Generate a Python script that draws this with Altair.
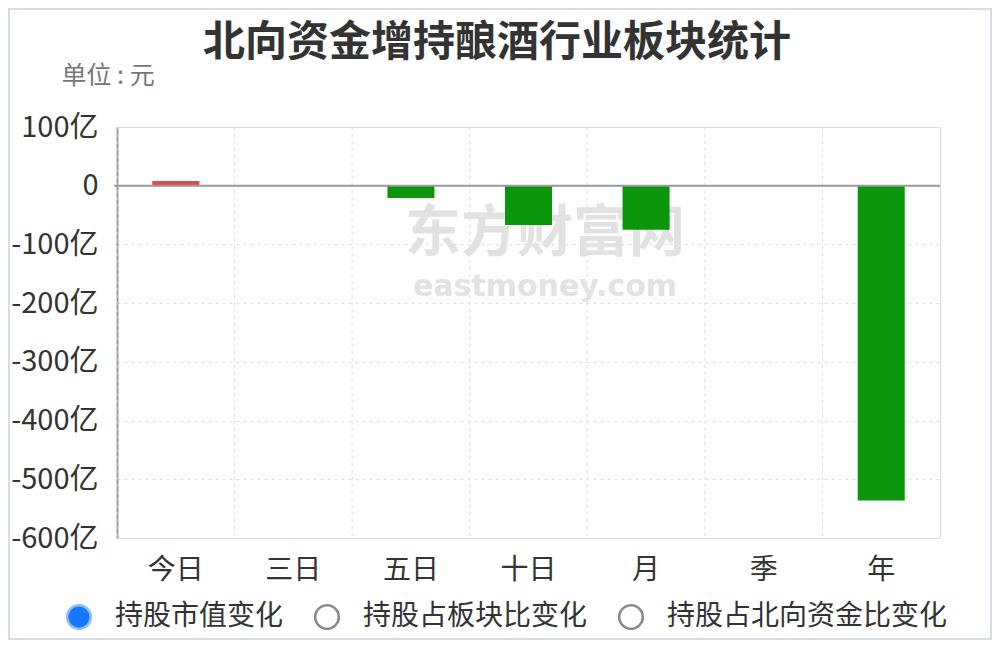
import altair as alt
import pandas as pd

# ---- data ----
categories = ["今日", "三日", "五日", "十日", "月", "季", "年"]
values = [8, 0, -21, -67, -75, 0, -536]          # 亿元
y_ticks = [100, 0, -100, -200, -300, -400, -500, -600]
options = ["持股市值变化", "持股占板块比变化", "持股占北向资金比变化"]
title_text = "北向资金增持酿酒行业板块统计"
unit_text = "单位 : 元"
watermark_cn = ["东方财富网"]
watermark_en = ["eastmoney.com"]

FONT = "Noto Sans CJK SC"
GRID = "#d5dfe8"
AXIS = "#9a9a9a"

df = pd.DataFrame({"cat": categories, "v": values})
cat_df = pd.DataFrame({"cat": categories})
opt_df = pd.DataFrame({"opt": options})

x_scale = alt.Scale(domain=categories, paddingInner=0, paddingOuter=0)
y_scale = alt.Scale(domain=[-600, 100], nice=False, zero=False)

x_axis = alt.Axis(title=None, domain=False, ticks=False, grid=False, labelAngle=0,
                  bandPosition=0.5, labelAlign="center",
                  labelFontSize=28, labelColor="#333", labelFont=FONT, labelPadding=18)

frame = alt.Chart(pd.DataFrame({"a": [0]})).mark_rect(
    fill="transparent", stroke="#d3dee8", strokeWidth=2
).encode(x=alt.value(-108), x2=alt.value(874), y=alt.value(-118), y2=alt.value(512))

wm_cn = alt.Chart(pd.DataFrame({"t": watermark_cn})).mark_text(
    font=FONT, fontSize=56, fontWeight="bold", color="#e2e2e2", align="center", baseline="middle"
).encode(text="t:N", x=alt.value(428), y=alt.value(107))

wm_en = alt.Chart(pd.DataFrame({"t": watermark_en})).mark_text(
    font="DejaVu Sans", fontSize=30, fontWeight="bold", color="#e2e2e2", align="center", baseline="middle"
).encode(text="t:N", x=alt.value(428), y=alt.value(160))

vgrid = alt.Chart(cat_df).mark_rule(color=GRID, strokeDash=[3, 4], strokeWidth=1).encode(
    x=alt.X("cat:N", sort=categories, scale=x_scale, bandPosition=0, axis=x_axis)
)

bars = alt.Chart(df).mark_bar(size=47).encode(
    x=alt.X("cat:N", sort=categories, scale=x_scale, axis=x_axis),
    y=alt.Y(
        "v:Q", scale=y_scale,
        axis=alt.Axis(
            values=y_ticks, labelExpr="datum.value == 0 ? '0' : datum.value + '亿'",
            ticks=False, domain=True, domainColor=AXIS, domainWidth=2,
            grid=True, gridColor=GRID, gridDash=[3, 4], gridWidth=1,
            labelFontSize=29, labelColor="#333", labelFont=FONT, labelPadding=19,
            title=unit_text, titleAngle=0, titleAlign="left", titleBaseline="middle",
            titleX=-56, titleY=-52, titleFontSize=25, titleFontWeight="normal",
            titleColor="#777", titleFont=FONT,
        ),
    ),
    color=alt.condition(alt.datum.v > 0, alt.value("#e5474f"), alt.value("#0a960a")),
)

zero = alt.Chart(pd.DataFrame({"z": [0]})).mark_rule(color=AXIS, strokeWidth=2).encode(
    y=alt.Y("z:Q", scale=y_scale), x=alt.value(-3), x2=alt.value(823)
)

legend_cfg = dict(
    title=None, orient="none", legendX=-52, legendY=476, direction="horizontal",
    symbolSize=560, symbolStrokeWidth=2.5, labelFontSize=28, labelFont=FONT,
    labelColor="#333", labelOffset=22, columnPadding=26, padding=0,
    symbolType="circle", labelLimit=600, symbolOpacity=1,
)

legend_pts = alt.Chart(opt_df).mark_point(filled=True, shape="circle", opacity=1).encode(
    x=alt.value(-2000), y=alt.value(-2000),
    fill=alt.Fill(
        "opt:N", sort=options,
        scale=alt.Scale(domain=options, range=["#1677ff", "#ffffff", "#ffffff"]),
        legend=alt.Legend(**legend_cfg),
    ),
    stroke=alt.Stroke(
        "opt:N", sort=options,
        scale=alt.Scale(domain=options, range=["#8fc0fb", "#8a8a8a", "#8a8a8a"]),
        legend=alt.Legend(**legend_cfg),
    ),
)

title_mark = alt.Chart(pd.DataFrame({"t": [title_text]})).mark_text(
    font=FONT, fontSize=42, fontWeight="bold", color="#333", align="center", baseline="middle"
).encode(text="t:N", x=alt.value(380), y=alt.value(-84))

chart = alt.layer(frame, wm_cn, wm_en, vgrid, bars, zero, legend_pts, title_mark).resolve_scale(
    fill="independent", stroke="independent"
).properties(
    width=823, height=411,
    autosize=alt.AutoSizeParams(type="none"),
    padding={"left": 109, "top": 119, "right": 52, "bottom": 102},
).configure_view(
    stroke=GRID, strokeDash=[3, 4], strokeWidth=1
).configure(background="white")

chart.save("out.html", embed_options={"renderer": "svg", "actions": False})
